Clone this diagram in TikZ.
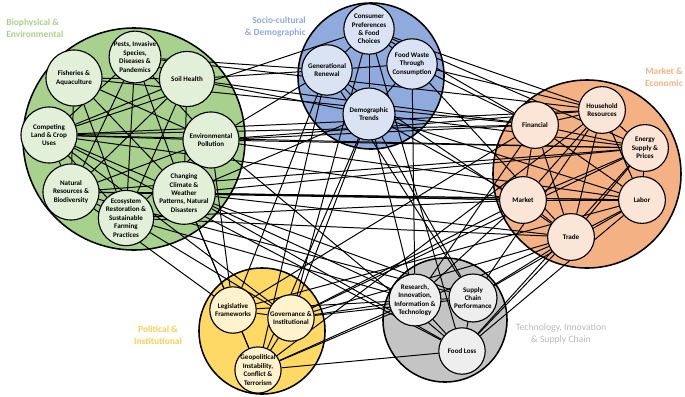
\documentclass[tikz,border=0pt]{standalone}
\usepackage{fontspec}
\setmainfont{Carlito}
\usetikzlibrary{positioning}
\pgfdeclarelayer{clusters}
\pgfdeclarelayer{links}
\pgfsetlayers{clusters,links,main}
\definecolor{bioback}{RGB}{169,209,142}
\definecolor{biofill}{RGB}{226,240,217}
\definecolor{socback}{RGB}{143,170,220}
\definecolor{socfill}{RGB}{218,227,243}
\definecolor{mktback}{RGB}{244,177,131}
\definecolor{mktfill}{RGB}{251,229,214}
\definecolor{polback}{RGB}{255,217,102}
\definecolor{polfill}{RGB}{255,242,204}
\definecolor{techback}{RGB}{196,196,196}
\definecolor{techfill}{RGB}{238,238,238}
\definecolor{poltext}{RGB}{255,205,80}
\definecolor{techtext}{RGB}{185,185,185}

\begin{document}
\begin{tikzpicture}[x=0.025cm,y=-0.025cm,
	cluster/.style={circle,draw,line width=1.1pt,inner sep=0pt},
	factor/.style={circle,draw,line width=0.8pt,inner sep=0pt,align=center,font=\fontsize{5}{6}\selectfont\bfseries},
	link/.style={line width=0.7pt},
	grouplabel/.style={font=\fontsize{6.7}{8.2}\selectfont\bfseries,inner sep=0pt}]
		\useasboundingbox (0,0) rectangle (685,396);
		% Groups
		\begin{pgfonlayer}{clusters}
		\node[cluster,fill=bioback,minimum size=5.55cm] (bio) at (134,139) {};
		\node[cluster,fill=socback,minimum size=3.65cm] (soc) at (371,76) {};
		\node[cluster,fill=mktback,minimum size=4.7cm] (mkt) at (587,174) {};
		\node[cluster,fill=polback,minimum size=3.15cm] (pol) at (262,331) {};
		\node[cluster,fill=techback,minimum size=3.1cm] (tech) at (445,320) {};
		\end{pgfonlayer}
		% Group labels
		\node[grouplabel,text=bioback,align=left,anchor=west] (biolabel) at (6,28) {Biophysical \&\\Environmental};
		\node[grouplabel,text=socback,align=right,anchor=east] (soclabel) at (306,27) {Socio-cultural\\\& Demographic};
		\node[grouplabel,text=mktback,align=right,anchor=east] (mktlabel) at (683,77) {Market \&\\Economic};
		\node[grouplabel,text=poltext,align=center] (pollabel) at (158,335) {Political \&\\Institutional};
		\node[grouplabel,text=techtext,align=center,font=\fontsize{6.9}{8.2}\selectfont] (techlabel) at (561,334) {Technology, Innovation\\\& Supply Chain};
		% Biophysical & Environmental
		\node[factor,fill=biofill,minimum size=1.28cm] (pest) at (135,57) {Pests, Invasive\\Species,\\Diseases \&\\Pandemics};
		\node[factor,fill=biofill,minimum size=1.4cm] (fish) at (74,78) {Fisheries \&\\Aquaculture};
		\node[factor,fill=biofill,minimum size=1.38cm] (soil) at (187,79) {Soil Health};
		\node[factor,fill=biofill,minimum size=1.4cm] (land) at (49,135) {Competing\\Land \& Crop\\Uses};
		\node[factor,fill=biofill,minimum size=1.4cm] (poll) at (211,140) {Environmental\\Pollution};
		\node[factor,fill=biofill,minimum size=1.4cm] (natres) at (71,192) {Natural\\Resources \&\\Biodiversity};
		\node[factor,fill=biofill,minimum size=1.36cm] (eco) at (126,218) {Ecosystem\\Restoration \&\\Sustainable\\Farming\\Practices};
		\node[factor,fill=biofill,minimum size=1.36cm] (clim) at (184,193) {Changing\\Climate \&\\Weather\\Patterns, Natural\\Disasters};
		% Socio-cultural & Demographic
		\node[factor,fill=socfill,minimum size=1.26cm] (cons) at (369,29) {Consumer\\Preferences\\\& Food\\Choices};
		\node[factor,fill=socfill,minimum size=1.26cm] (gen) at (327,70) {Generational\\Renewal};
		\node[factor,fill=socfill,minimum size=1.26cm] (waste) at (412,64) {Food Waste\\Through\\Consumption};
		\node[factor,fill=socfill,minimum size=1.3cm] (demo) at (369,114) {Demographic\\Trends};
		% Market & Economic
		\node[factor,fill=mktfill,minimum size=1.17cm] (house) at (602,110) {Household\\Resources};
		\node[factor,fill=mktfill,minimum size=1.17cm] (fin) at (535,125) {Financial};
		\node[factor,fill=mktfill,minimum size=1.17cm] (energy) at (645,148) {Energy\\Supply \&\\Prices};
		\node[factor,fill=mktfill,minimum size=1.17cm] (market) at (523,200) {Market};
		\node[factor,fill=mktfill,minimum size=1.17cm] (labor) at (642,200) {Labor};
		\node[factor,fill=mktfill,minimum size=1.17cm] (trade) at (571,237) {Trade};
		% Political & Institutional
		\node[factor,fill=polfill,minimum size=1.16cm] (legis) at (233,310) {Legislative\\Frameworks};
		\node[factor,fill=polfill,minimum size=1.16cm] (gov) at (291,318) {Governance \&\\Institutional};
		\node[factor,fill=polfill,minimum size=1.12cm] (geo) at (258,370) {Geopolitical\\Instability,\\Conflict \&\\Terrorism};
		% Technology, Innovation & Supply Chain
		\node[factor,fill=techfill,minimum size=1.12cm] (res) at (415,300) {Research,\\Innovation,\\Information \&\\Technology};
		\node[factor,fill=techfill,minimum size=1.2cm] (supply) at (473,298) {Supply\\Chain\\Performance};
		\node[factor,fill=techfill,minimum size=1.16cm] (loss) at (462,351) {Food Loss};
		% Links
		\begin{pgfonlayer}{links}
		% within groups
		\foreach \a/\b in {fish/clim,fish/eco,fish/poll,fish/natres,fish/soil,pest/land,pest/natres,pest/eco,pest/clim,pest/poll,pest/soil,
			soil/land,soil/natres,soil/eco,soil/clim,land/poll,land/clim,land/eco,land/natres,natres/poll,natres/clim,natres/eco,eco/poll,clim/poll,
			cons/gen,cons/waste,cons/demo,gen/demo,gen/waste,waste/demo,
			fin/house,fin/energy,fin/market,fin/labor,fin/trade,house/energy,house/market,house/labor,house/trade,energy/market,energy/trade,
			market/labor,market/trade,labor/trade,energy/labor,
			legis/gov,legis/geo,gov/geo,res/supply,res/loss,supply/loss}
			\draw[link] (\a) -- (\b);
		% between groups
		\foreach \a/\b in {soil/gen,poll/gen,land/cons,soil/demo,clim/demo,pest/gen,
			land/house,land/energy,land/market,poll/fin,poll/energy,poll/labor,clim/market,clim/trade,clim/energy,natres/labor,soil/fin,eco/market,natres/energy,pest/house,
			fish/fin,land/fin,eco/trade,natres/market,clim/labor,poll/house,
			natres/legis,clim/legis,poll/legis,eco/gov,clim/geo,land/gov,
			clim/res,clim/supply,poll/loss,eco/res,natres/supply,land/loss,clim/loss,
			cons/house,cons/energy,waste/fin,waste/house,demo/market,demo/labor,gen/trade,waste/trade,cons/fin,demo/energy,
			gen/legis,demo/gov,cons/gov,demo/geo,gen/geo,
			waste/res,demo/supply,cons/loss,demo/res,gen/supply,
			market/gov,fin/legis,trade/geo,energy/gov,house/geo,labor/legis,trade/gov,
			market/res,trade/supply,trade/loss,labor/supply,energy/loss,fin/res,house/supply,labor/loss,
			gov/res,legis/res,geo/loss,gov/supply,geo/res}
			\draw[link] (\a) -- (\b);
		\end{pgfonlayer}
	\end{tikzpicture}
\end{document}
